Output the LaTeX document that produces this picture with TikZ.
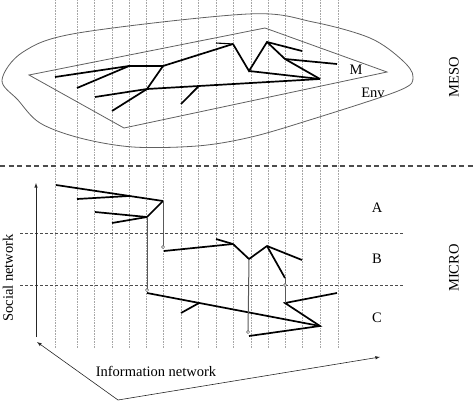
\documentclass[tikz,border=0pt]{standalone}
\usepackage{fontspec}
\setmainfont{Liberation Serif}
\usetikzlibrary{calc}
\begin{document}
\begin{tikzpicture}[x=1pt, y=-1pt,
        every node/.style={font=\fontsize{14.5}{16}\selectfont, inner sep=0pt},
        link/.style={line width=1.7pt, black},
        flat/.style={line width=1.1pt, black},
        outline/.style={gray!75!black, line width=0.8pt},
        guide/.style={gray!70, densely dotted, line width=0.6pt},
        jump/.style={gray!70!black, line width=1pt},
        layer/.style={gray!60!black, dash pattern=on 3pt off 2pt, line width=0.7pt},
        level/.style={gray!60!black, dash pattern=on 5pt off 3.5pt, line width=1.2pt},
        axis/.style={gray!30!black, line width=0.6pt, -latex}]
    \useasboundingbox (0,0) rectangle (474,402);
    \foreach \x in {55,77,94.5,112,129,146,163.5,181,198.5,216,233.5,251,268,285,302.5,320,338}
        \draw[guide] (\x,0) -- (\x,348);
    % meso
    \draw[outline] plot[smooth cycle, tension=0.55] coordinates {(2,80) (23,52) (78,33) (248,14) (313,22) (370,38) (402,60) (413,77) (398,91) (300,123) (247,138) (197,146) (133,147) (80,138) (40,123) (18,100)};
    \draw[outline] (29,75) -- (265,28) -- (387,72) -- (124,128) -- cycle;
    \node (m) at (356,70) {M};
    \node (env) at (373,93) {Env};
    \coordinate (m1) at (55,77);
    \coordinate (m2) at (77,88);
    \coordinate (m3) at (129,66);
    \coordinate (m4) at (163,66);
    \coordinate (m5a) at (216,43);
    \coordinate (m5) at (233,44);
    \coordinate (m6) at (249,71);
    \coordinate (m7) at (267,42);
    \coordinate (m8) at (302,51);
    \coordinate (m9) at (285,59);
    \coordinate (m10) at (337,64);
    \coordinate (m11) at (320,79);
    \coordinate (m12) at (147,89);
    \coordinate (m13) at (95,97);
    \coordinate (m14) at (112,111);
    \coordinate (m15) at ($(m12)!0.3!(m11)$);
    \coordinate (m16) at (181,104);
    \draw[link] (m1) -- (m3);
    \draw[link] (m2) -- (m3);
    \draw[flat] (m3) -- (m4);
    \draw[link] (m4) -- (m5);
    \draw[flat] (m5a) -- (m5);
    \draw[link] (m5) -- (m6) -- (m7) -- (m8);
    \draw[link] (m7) -- (m9) -- (m11);
    \draw[link] (m9) -- (m10);
    \draw[link] (m6) -- (m11);
    \draw[link] (m11) -- (m12);
    \draw[link] (m4) -- (m12);
    \draw[link] (m12) -- (m13);
    \draw[link] (m12) -- (m14);
    \draw[link] (m15) -- (m16);
    \draw[level] (0,166) -- (474,166);
    \node[rotate=90] (meso) at (454,77) {MESO};
    % micro
    \draw[layer] (20,233) -- (404,233);
    \draw[layer] (20,285) -- (404,285);
    \node (la) at (377,208) {A};
    \node (lb) at (377,259) {B};
    \node (lc) at (377,318) {C};
    \node[rotate=90] (micro) at (454,268) {MICRO};
    \coordinate (a1) at (56,185);
    \coordinate (a2) at (163,201);
    \coordinate (a3) at (77,199);
    \coordinate (a4) at (129,196);
    \coordinate (a5) at (95,212);
    \coordinate (a6) at (112,223);
    \coordinate (a7) at (147,217);
    \draw[link] (a1) -- (a2);
    \draw[link] (a3) -- (a4);
    \draw[link] (a5) -- (a7);
    \draw[link] (a6) -- (a7) -- (a2);
    \coordinate (b1) at (164,251);
    \coordinate (b2) at (216,239);
    \coordinate (b3) at (233,244);
    \coordinate (b4) at (249,259);
    \coordinate (b5) at (267,246);
    \coordinate (b6) at (302,260);
    \coordinate (b7) at (285,278);
    \draw[link] (b1) -- (b3);
    \draw[link] (b2) -- (b3);
    \draw[link] (b3) -- (b4) -- (b5) -- (b6);
    \draw[link] (b5) -- (b7);
    \coordinate (c1) at (147,293);
    \coordinate (c2) at (320,326);
    \coordinate (c3) at (181,313);
    \coordinate (c4) at (199,303);
    \coordinate (c5) at (285,303);
    \coordinate (c6) at (337,293);
    \coordinate (c7) at (249,336);
    \draw[link] (c1) -- (c2);
    \draw[link] (c3) -- (c4);
    \draw[link] (c6) -- (c5) -- (c2) -- (c7);
    \coordinate (j1) at (163,247);
    \coordinate (j2) at (147,290);
    \coordinate (j3) at (248,332);
    \coordinate (j4) at (285,285);
    \draw[jump] (a2) -- (j1);
    \draw[jump] (a7) -- (j2);
    \draw[jump] (b4) -- (j3);
    \draw[jump] (b7) -- (c5);
    \foreach \j in {j1,j2,j3,j4}
        \draw[jump, line width=0.5pt, fill=white] (\j) circle (1.6);
    % axes
    \coordinate (o) at (118,400);
    \coordinate (sb) at (36,337);
    \coordinate (st) at (36,183);
    \coordinate (il) at (37,342);
    \coordinate (ir) at (380,357);
    \draw[axis] (sb) -- (st);
    \draw[axis] (o) -- (il);
    \draw[axis] (o) -- (ir);
    \node[rotate=90] (social) at (8,278) {Social network};
    \node (info) at (156,371) {Information network};
\end{tikzpicture}
\end{document}
